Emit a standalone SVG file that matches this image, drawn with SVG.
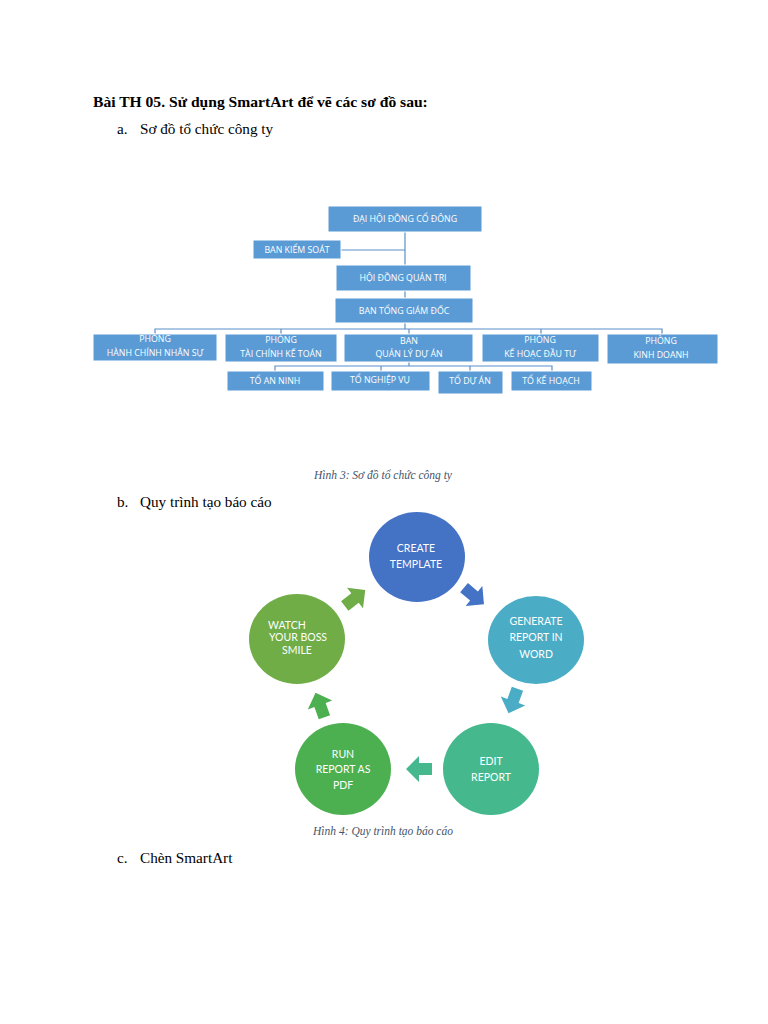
<svg xmlns="http://www.w3.org/2000/svg" width="768" height="1024" viewBox="0 0 768 1024">
<style>
.doc{font-family:"Liberation Serif",serif;font-size:15.2px;fill:#000}
.h{font-weight:bold;font-size:15.6px}
.cap{font-family:"Liberation Serif",serif;font-style:italic;font-size:11.5px;fill:#44546a;text-anchor:middle}
.box{fill:#5b9bd5;stroke:#ffffff;stroke-width:1}
.ot{font-family:"Open Sans",sans-serif;font-size:8.8px;fill:#ffffff;text-anchor:middle}
.ln{stroke:#5b8fc9;stroke-width:1.2;fill:none}
.ct{font-family:Lato,"Open Sans",sans-serif;font-size:10.5px;fill:#ffffff;text-anchor:middle}
</style>
<defs>
<path id="barrow" d="M-13,-6 L0,-6 L0,-13 L13,0 L0,13 L0,6 L-13,6 Z"/>
</defs>
<rect width="768" height="1024" fill="#ffffff"/>
<text class="doc h" x="93" y="107">Bài TH 05. Sử dụng SmartArt để vẽ các sơ đồ sau:</text>
<text class="doc" x="117" y="134">a.</text>
<text class="doc" x="140" y="134">Sơ đồ tổ chức công ty</text>

<g id="connectors">
<polyline class="ln" points="405,232 405,265"/>
<polyline class="ln" points="341,250 405,250"/>
<polyline class="ln" points="405,291 405,298"/>
<polyline class="ln" points="405,323 405,329"/>
<polyline class="ln" points="155,334 155,329 662,329 662,334"/>
<polyline class="ln" points="281,329 281,334"/>
<polyline class="ln" points="409,329 409,334"/>
<polyline class="ln" points="541,329 541,334"/>
<polyline class="ln" points="409,362 409,366"/>
<polyline class="ln" points="275,371 275,366 552,366 552,371"/>
<polyline class="ln" points="381,366 381,371"/>
<polyline class="ln" points="470,366 470,371"/>
</g>

<g id="n-dhdcd"><rect class="box" x="328" y="206" width="154" height="26"/><text class="ot" x="405" y="222">ĐẠI HỘI ĐỒNG CỔ ĐÔNG</text></g>
<g id="n-bks"><rect class="box" x="253" y="240" width="88" height="19"/><text class="ot" x="297" y="253">BAN KIỂM SOÁT</text></g>
<g id="n-hdqt"><rect class="box" x="336" y="265" width="135" height="26"/><text class="ot" x="403" y="281">HỘI ĐỒNG QUẢN TRỊ</text></g>
<g id="n-btgd"><rect class="box" x="335" y="298" width="138" height="25"/><text class="ot" x="404" y="314">BAN TỔNG GIÁM ĐỐC</text></g>
<g id="n-hcns"><rect class="box" x="93" y="334" width="124" height="27"/><text class="ot" x="155" y="342">PHÒNG</text><text class="ot" x="155" y="356">HÀNH CHÍNH NHÂN SỰ</text></g>
<g id="n-tckt"><rect class="box" x="225" y="334" width="112" height="28"/><text class="ot" x="281" y="343">PHÒNG</text><text class="ot" x="281" y="357">TÀI CHÍNH KẾ TOÁN</text></g>
<g id="n-qlda"><rect class="box" x="344" y="334" width="129" height="28"/><text class="ot" x="409" y="344">BAN</text><text class="ot" x="409" y="357">QUẢN LÝ DỰ ÁN</text></g>
<g id="n-khdt"><rect class="box" x="482" y="334" width="117" height="28"/><text class="ot" x="540" y="343">PHÒNG</text><text class="ot" x="540" y="357">KẾ HOẠC ĐẦU TƯ</text></g>
<g id="n-kd"><rect class="box" x="607" y="334" width="111" height="30"/><text class="ot" x="661" y="344">PHÒNG</text><text class="ot" x="661" y="358">KINH DOANH</text></g>
<g id="n-an"><rect class="box" x="227" y="371" width="97" height="20"/><text class="ot" x="275" y="384">TỔ AN NINH</text></g>
<g id="n-nv"><rect class="box" x="331" y="371" width="99" height="20"/><text class="ot" x="380" y="383">TỔ NGHIỆP VỤ</text></g>
<g id="n-da"><rect class="box" x="438" y="371" width="65" height="23"/><text class="ot" x="470" y="384">TỔ DỰ ÁN</text></g>
<g id="n-kh"><rect class="box" x="511" y="371" width="81" height="20"/><text class="ot" x="551" y="384">TỔ KẾ HOẠCH</text></g>

<text class="cap" x="383" y="479">Hình 3: Sơ đồ tổ chức công ty</text>

<text class="doc" x="117" y="507">b.</text>
<text class="doc" x="140" y="507">Quy trình tạo báo cáo</text>

<g id="cycle-arrows">
<use href="#barrow" fill="#4472c4" transform="translate(474,596) rotate(40)"/>
<use href="#barrow" fill="#4aacc5" transform="translate(513,701) rotate(110)"/>
<use href="#barrow" fill="#45b98d" transform="translate(419,769) rotate(180)"/>
<use href="#barrow" fill="#4cb050" transform="translate(320,705) rotate(250)"/>
<use href="#barrow" fill="#70ad47" transform="translate(355,598) rotate(-38)"/>
</g>

<g id="c-create"><ellipse cx="417" cy="557" rx="48" ry="45" fill="#4472c4"/><text class="ct" x="416" y="552">CREATE</text><text class="ct" x="416" y="568">TEMPLATE</text></g>
<g id="c-generate"><ellipse cx="536" cy="640" rx="48" ry="44" fill="#4aacc5"/><text class="ct" x="536" y="625">GENERATE</text><text class="ct" x="536" y="641">REPORT IN</text><text class="ct" x="536" y="658">WORD</text></g>
<g id="c-edit"><ellipse cx="491" cy="769" rx="48" ry="46" fill="#45b98d"/><text class="ct" x="491" y="765">EDIT</text><text class="ct" x="491" y="781">REPORT</text></g>
<g id="c-run"><ellipse cx="343" cy="769" rx="48" ry="46" fill="#4cb050"/><text class="ct" x="343" y="758">RUN</text><text class="ct" x="343" y="773">REPORT AS</text><text class="ct" x="343" y="789">PDF</text></g>
<g id="c-watch"><ellipse cx="297" cy="639" rx="48" ry="45" fill="#70ad47"/><text class="ct" x="268" y="629" style="text-anchor:start">WATCH</text><text class="ct" x="298" y="641">YOUR BOSS</text><text class="ct" x="297" y="654">SMILE</text></g>

<text class="cap" x="383" y="835">Hình 4: Quy trình tạo báo cáo</text>

<text class="doc" x="117" y="863">c.</text>
<text class="doc" x="140" y="863">Chèn SmartArt</text>
</svg>
